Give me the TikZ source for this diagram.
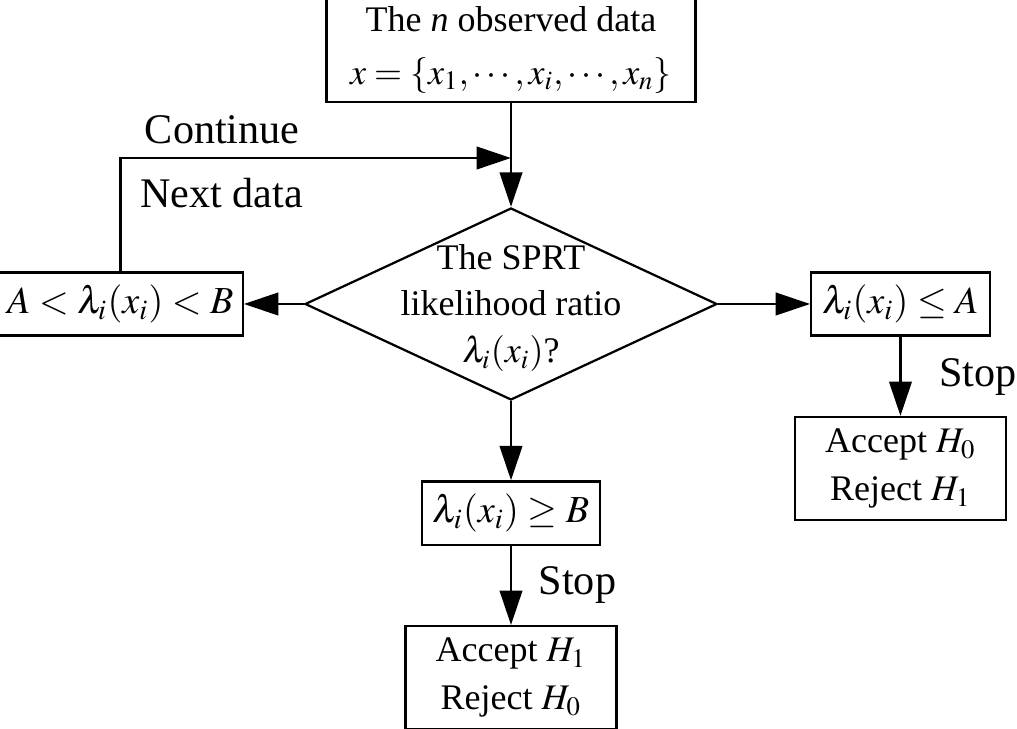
\documentclass[tikz,border=0pt]{standalone}
\usepackage{mathptmx}
\usepackage[no-math]{fontspec}
\setmainfont{Liberation Serif}
\usetikzlibrary{arrows.meta, positioning, shapes.geometric}

\begin{document}
\begin{tikzpicture}[
    box/.style={rectangle, draw=black, line width=0.8pt, fill=white,
                align=center, inner sep=2pt,
                font=\fontsize{12.8}{17}\selectfont},
    test/.style={box, minimum width=2.23cm, minimum height=0.79cm,
                 font=\fontsize{13.6}{17}\selectfont},
    endbox/.style={box, minimum width=2.64cm, minimum height=1.29cm},
    dia/.style={diamond, draw=black, line width=0.8pt, inner sep=0pt,
                minimum width=5.15cm, minimum height=2.4cm},
    lab/.style={inner sep=0pt, font=\fontsize{15}{18}\selectfont},
    ar/.style={-{Triangle[length=4.3mm, width=2.8mm]}, line width=1pt}
]
\useasboundingbox (-6.3875,3.8) rectangle (6.325,-5.3);
\node[dia] (dec) {};
\node[align=center, font=\fontsize{12.8}{16.6}\selectfont] (decText)
    at ([yshift=-0.05cm]dec.center) {The SPRT\\likelihood ratio\\$\lambda_i(x_i)$?};
\node[box, above=1.3cm of dec, minimum width=4.61cm, minimum height=1.3cm] (obs)
    {The \textit{n} observed data\\[2pt]$x=\{x_1,\cdots,x_i,\cdots,x_n\}$};
\node[test, left=0.75cm of dec, minimum width=3.06cm] (cont)
    {$A<\lambda_i(x_i)<B$};
\node[test, right=1.15cm of dec] (lowA) {$\lambda_i(x_i)\le A$};
\node[test, below=0.99cm of dec] (highB) {$\lambda_i(x_i)\ge B$};
\node[endbox, below=0.99cm of lowA] (acc0) {Accept $H_0$\\Reject $H_1$};
\node[endbox, below=0.99cm of highB] (acc1) {Accept $H_1$\\Reject $H_0$};

% loop back for the next data
\coordinate (join) at ([yshift=1.825cm]dec.center);
\coordinate (bend) at (cont.north |- join);
\node[lab, anchor=base west] (contLbl) at ([xshift=0.3cm, yshift=0.175cm]bend) {Continue};
\node[lab, anchor=base west] (nextLbl) at ([xshift=0.24cm, yshift=-0.625cm]bend) {Next data};
\node[lab, anchor=base west] (stopA) at ([xshift=0.475cm, yshift=-0.625cm]lowA.south) {Stop};
\node[lab, anchor=base west] (stopB) at ([xshift=0.34cm, yshift=-0.61cm]highB.south) {Stop};

\draw[ar] (obs.south) -- (dec.north);
\draw[ar] (cont.north) |- (join);
\draw[ar] (dec.west) -- (cont.east);
\draw[ar] (dec.east) -- (lowA.west);
\draw[ar] (dec.south) -- (highB.north);
\draw[ar] (lowA.south) -- (acc0.north);
\draw[ar] (highB.south) -- (acc1.north);
\end{tikzpicture}
\end{document}
